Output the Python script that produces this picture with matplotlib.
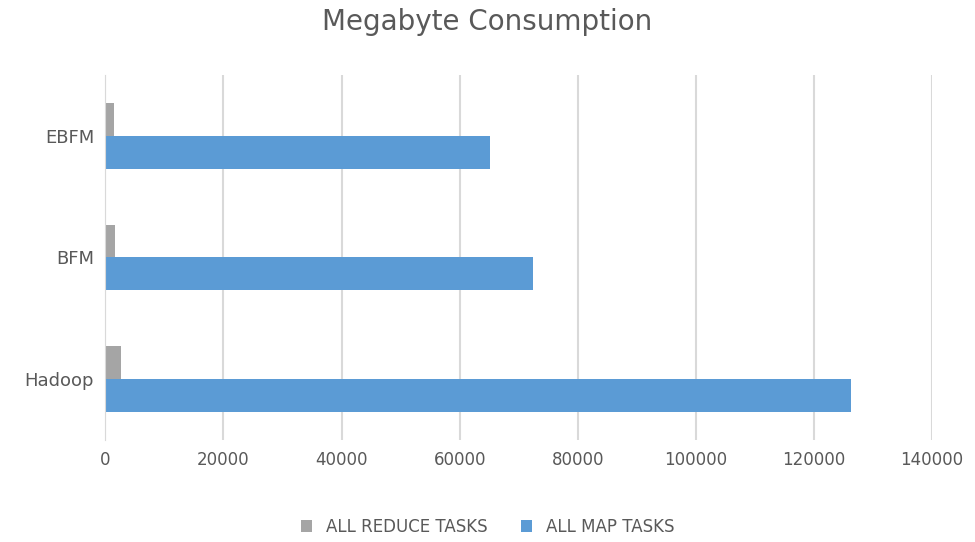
import matplotlib.pyplot as plt
import numpy as np

categories = ["Hadoop", "BFM", "EBFM"]
reduce_tasks = [2700, 1700, 1500]
map_tasks = [126300, 72500, 65200]
xticks = [0, 20000, 40000, 60000, 80000, 100000, 120000, 140000]

fig = plt.figure(figsize=(9.75, 5.42), dpi=100)
ax = fig.add_axes([0.108, 0.188, 0.848, 0.674])
y = np.arange(len(categories))
h = 0.27
ax.barh(y + h/2, reduce_tasks, height=h, color="#a5a5a5", label="ALL REDUCE TASKS")
ax.barh(y - h/2, map_tasks, height=h, color="#5b9bd5", label="ALL MAP TASKS")
ax.set_xlim(0, 140000)
ax.set_ylim(-0.5, 2.5)
ax.set_xticks(xticks)
ax.set_xticklabels([str(t) for t in xticks], fontsize=12, color="#595959")
ax.set_yticks(y)
ax.set_yticklabels(categories, fontsize=13, color="#595959")
ax.grid(axis="x", color="#d9d9d9", linewidth=1.5)
ax.set_axisbelow(True)
for s in ["top", "right", "bottom"]:
    ax.spines[s].set_visible(False)
ax.spines["left"].set_color("#d9d9d9")
ax.tick_params(length=0, pad=8)
fig.text(0.5, 0.96, "Megabyte Consumption", ha="center", va="center", fontsize=20, color="#595959")
fig.legend(loc="center", bbox_to_anchor=(0.5, 0.028), ncol=2, frameon=False,
           fontsize=12, labelcolor="#595959", handlelength=0.7, handleheight=0.7, columnspacing=2)
fig.savefig("out.png")
